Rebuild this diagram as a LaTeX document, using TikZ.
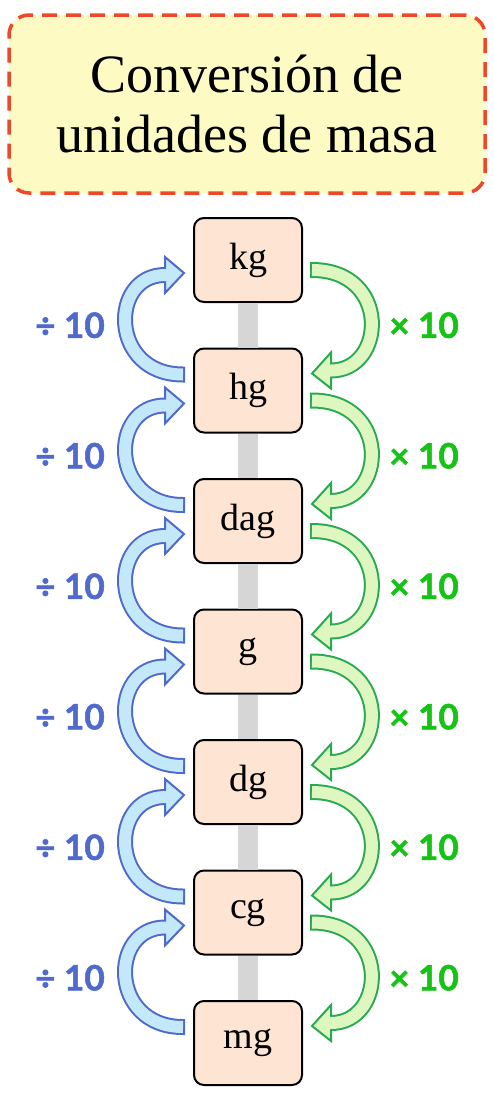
\documentclass[tikz,border=0pt]{standalone}
\usepackage{fontspec}
\newfontfamily\labfont{Lato}[BoldFeatures={FakeBold=1.5}]
\newfontfamily\unitfont{Liberation Serif}
\usetikzlibrary{calc}

\definecolor{unitfill}{HTML}{FDE4D3}
\definecolor{titlefill}{HTML}{FDFAC4}
\definecolor{titleline}{HTML}{EE4828}
\definecolor{bargray}{HTML}{D6D6D6}
\definecolor{blueline}{HTML}{5069CD}
\definecolor{bluefill}{HTML}{C3E8FA}
\definecolor{greenline}{HTML}{28AA50}
\definecolor{greenfill}{HTML}{DEF7C0}
\definecolor{greentext}{HTML}{14C314}

\begin{document}
\begin{tikzpicture}[
  x=1pt, y=-1pt,
  titlebox/.style={draw=titleline, fill=titlefill, line width=3.5pt, dash pattern=on 15pt off 9pt,
    rounded corners=20pt, minimum width=476pt, minimum height=178pt, align=center,
    font=\unitfont\fontsize{54}{60}\selectfont},
  unit/.style={draw=black, line width=2pt, fill=unitfill, rounded corners=10pt,
    minimum width=108pt, minimum height=84pt, inner sep=0pt, font=\unitfont\fontsize{38}{40}\selectfont},
  bar/.style={draw=bargray, line width=20pt},
  divlab/.style={text=blueline, font=\labfont\bfseries\fontsize{35}{40}\selectfont},
  mullab/.style={text=greentext, font=\labfont\bfseries\fontsize{35}{40}\selectfont},
  bshaft/.style={draw=blueline, line width=16pt},
  bfill/.style={draw=bluefill, line width=12pt},
  bhead/.style={fill=bluefill, draw=blueline, line width=2pt},
  gshaft/.style={draw=greenline, line width=16pt},
  gfill/.style={draw=greenfill, line width=12pt},
  ghead/.style={fill=greenfill, draw=greenline, line width=2pt}
]
\useasboundingbox (0,0) rectangle (493,1100);

\node[titlebox] (title) at (247,104) {Conversión de\\unidades de masa};

\foreach \u [count=\i] in {kg,hg,dag,g,dg,cg,mg}
  \node[unit] (u\i) at (248,{260+130.5*(\i-1)}) {\u};

\foreach \i [evaluate=\i as \j using int(\i+1)] in {1,...,6} {
  \draw[bar] (u\i.south) -- (u\j.north);

  % dividing: going up on the left
  \coordinate (bt) at ($(u\j.west)+(-8,-16)$);
  \coordinate (bh) at ($(u\i.west)+(-28,15)$);
  \coordinate (btip) at ($(u\i.west)+(-9,13)$);
  \draw[bshaft] (bt) -- ++(-2,0) .. controls ($(bt)+(-76,0)$) and ($(bh)+(-56,0)$) .. (bh);
  \draw[bhead] ($(bh)+(0,-18)$) -- (btip) -- ($(bh)+(0,18)$) -- cycle;
  \draw[bfill] ($(bt)+(-2,0)$) .. controls ($(bt)+(-76,0)$) and ($(bh)+(-56,0)$) .. (bh) -- ++(3,0);

  % multiplying: going down on the right
  \coordinate (gt) at ($(u\i.east)+(7,10)$);
  \coordinate (gh) at ($(u\j.east)+(28,-20)$);
  \coordinate (gtip) at ($(u\j.east)+(9,-17)$);
  \draw[gshaft] (gt) -- ++(2,0) .. controls ($(gt)+(81,0)$) and ($(gh)+(55,0)$) .. (gh);
  \draw[ghead] ($(gh)+(0,-18)$) -- (gtip) -- ($(gh)+(0,18)$) -- cycle;
  \draw[gfill] ($(gt)+(2,0)$) .. controls ($(gt)+(81,0)$) and ($(gh)+(55,0)$) .. (gh) -- ++(-3,0);

  \node[divlab] (dv\i) at ($(u\i)!.5!(u\j)+(-178,0)$) {÷ 10};
  \node[mullab] (mu\i) at ($(u\i)!.5!(u\j)+(176,0)$) {× 10};
}

\end{tikzpicture}
\end{document}
